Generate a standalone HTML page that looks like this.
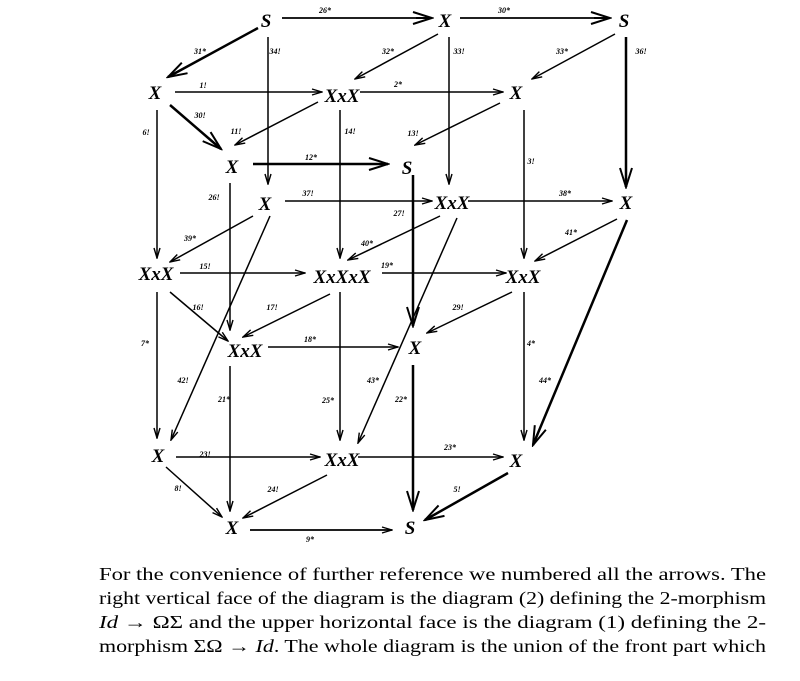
<!DOCTYPE html>
<html><head><meta charset="utf-8"><style>
html,body{margin:0;padding:0;background:#fff;}
svg{display:block;}
.n{font-family:"Liberation Serif",serif;font-style:italic;font-weight:bold;font-size:19px;fill:#000;text-anchor:middle;}
.l{font-family:"Liberation Serif",serif;font-style:italic;font-weight:bold;font-size:8px;fill:#000;text-anchor:middle;}
.t{font-family:"Liberation Serif",serif;font-size:17.5px;fill:#000;}
line{stroke:#000;stroke-width:1.5;}
line.k{stroke-width:2.5;}
</style></head><body>
<svg width="800" height="681" viewBox="0 0 800 681">
<defs>
<marker id="a" markerWidth="12" markerHeight="10" refX="11" refY="5" orient="auto" markerUnits="userSpaceOnUse">
<path d="M1,2 L11,5 L1,8" fill="none" stroke="#000" stroke-width="1.4"/></marker>
<marker id="b" markerWidth="22" markerHeight="14" refX="20" refY="7" orient="auto" markerUnits="userSpaceOnUse">
<path d="M1,1 L20,7 L1,13 M4,7 L20,7" fill="none" stroke="#000" stroke-width="2"/></marker>
</defs>
<g marker-end="url(#a)">
<line x1="282" y1="18" x2="432" y2="18" marker-end="url(#b)" style="stroke-width:1.8"/>
<line x1="460" y1="18" x2="610" y2="18" marker-end="url(#b)" style="stroke-width:1.8"/>
<line class="k" x1="258" y1="28" x2="168" y2="77" marker-end="url(#b)"/>
<line x1="268" y1="37" x2="268" y2="184"/>
<line x1="438" y1="34" x2="355" y2="79"/>
<line x1="449" y1="37" x2="449" y2="184"/>
<line x1="615" y1="34" x2="532" y2="79"/>
<line class="k" x1="626" y1="37" x2="626" y2="187" marker-end="url(#b)"/>
<line x1="175" y1="92" x2="322" y2="92"/>
<line x1="360" y1="92" x2="503" y2="92"/>
<line class="k" x1="170" y1="105" x2="221" y2="149" marker-end="url(#b)"/>
<line x1="157" y1="110" x2="157" y2="258"/>
<line x1="318" y1="102" x2="235" y2="145"/>
<line x1="340" y1="110" x2="340" y2="258"/>
<line x1="500" y1="103" x2="415" y2="145"/>
<line x1="524" y1="110" x2="524" y2="258"/>
<line class="k" x1="253" y1="164" x2="388" y2="164" marker-end="url(#b)"/>
<line x1="230" y1="183" x2="230" y2="330"/>
<line class="k" x1="413" y1="175" x2="413" y2="326" marker-end="url(#b)"/>
<line x1="285" y1="201" x2="432" y2="201"/>
<line x1="468" y1="201" x2="612" y2="201"/>
<line x1="253" y1="216" x2="170" y2="262"/>
<line x1="270" y1="216" x2="171" y2="440"/>
<line x1="440" y1="216" x2="348" y2="260"/>
<line x1="457" y1="218" x2="358" y2="443"/>
<line x1="617" y1="219" x2="535" y2="261"/>
<line class="k" x1="627" y1="220" x2="533" y2="445" marker-end="url(#b)"/>
<line x1="180" y1="273" x2="305" y2="273"/>
<line x1="170" y1="292" x2="228" y2="341"/>
<line x1="157" y1="292" x2="157" y2="438"/>
<line x1="382" y1="273" x2="506" y2="273"/>
<line x1="330" y1="294" x2="243" y2="337"/>
<line x1="340" y1="292" x2="340" y2="440"/>
<line x1="512" y1="292" x2="427" y2="333"/>
<line x1="524" y1="292" x2="524" y2="440"/>
<line x1="268" y1="347" x2="398" y2="347"/>
<line x1="230" y1="366" x2="230" y2="511"/>
<line class="k" x1="413" y1="365" x2="413" y2="510" marker-end="url(#b)"/>
<line x1="176" y1="457" x2="320" y2="457"/>
<line x1="358" y1="457" x2="503" y2="457"/>
<line x1="166" y1="467" x2="222" y2="517"/>
<line x1="327" y1="475" x2="243" y2="518"/>
<line class="k" x1="508" y1="473" x2="425" y2="520" marker-end="url(#b)"/>
<line x1="250" y1="530" x2="392" y2="530" style="stroke-width:1.8"/>
</g>
<g class="n">
<text x="266" y="27">S</text><text x="445" y="27">X</text><text x="624" y="27">S</text>
<text x="155" y="99">X</text><text x="342" y="102">XxX</text><text x="516" y="99">X</text>
<text x="232" y="173">X</text><text x="407" y="174">S</text>
<text x="265" y="210">X</text><text x="452" y="209">XxX</text><text x="626" y="209">X</text>
<text x="156" y="280">XxX</text><text x="342" y="283">XxXxX</text><text x="523" y="283">XxX</text>
<text x="245" y="357">XxX</text><text x="415" y="354">X</text>
<text x="158" y="462">X</text><text x="342" y="466">XxX</text><text x="516" y="467">X</text>
<text x="232" y="534">X</text><text x="410" y="534">S</text>
</g>
<g class="l">
<text x="325" y="13">26*</text><text x="504" y="13">30*</text>
<text x="200" y="54">31*</text><text x="275" y="54">34!</text><text x="388" y="54">32*</text>
<text x="459" y="54">33!</text><text x="562" y="54">33*</text><text x="641" y="54">36!</text>
<text x="203" y="88">1!</text><text x="398" y="87">2*</text>
<text x="200" y="118">30!</text><text x="146" y="135">6!</text><text x="236" y="134">11!</text>
<text x="350" y="134">14!</text><text x="413" y="136">13!</text>
<text x="311" y="160">12*</text><text x="531" y="164">3!</text>
<text x="214" y="200">26!</text><text x="308" y="196">37!</text><text x="399" y="216">27!</text>
<text x="565" y="196">38*</text>
<text x="190" y="241">39*</text><text x="367" y="246">40*</text><text x="571" y="235">41*</text>
<text x="205" y="269">15!</text><text x="387" y="268">19*</text>
<text x="198" y="310">16!</text><text x="272" y="310">17!</text><text x="458" y="310">29!</text>
<text x="145" y="346">7*</text><text x="310" y="342">18*</text><text x="531" y="346">4*</text>
<text x="183" y="383">42!</text><text x="373" y="383">43*</text><text x="545" y="383">44*</text>
<text x="224" y="402">21*</text><text x="328" y="403">25*</text><text x="401" y="402">22*</text>
<text x="205" y="457">23!</text><text x="450" y="450">23*</text>
<text x="178" y="491">8!</text><text x="273" y="492">24!</text><text x="457" y="492">5!</text>
<text x="310" y="542">9*</text>
</g>
<g class="t">
<text x="99" y="580" textLength="667" lengthAdjust="spacingAndGlyphs">For the convenience of further reference we numbered all the arrows.  The</text>
<text x="99" y="604" textLength="667" lengthAdjust="spacingAndGlyphs">right vertical face of the diagram is the diagram (2) defining the 2-morphism</text>
<text x="99" y="628" textLength="667" lengthAdjust="spacingAndGlyphs"><tspan font-style="italic">Id</tspan> → ΩΣ and the upper horizontal face is the diagram (1) defining the 2-</text>
<text x="99" y="652" textLength="667" lengthAdjust="spacingAndGlyphs">morphism ΣΩ → <tspan font-style="italic">Id</tspan>.  The whole diagram is the union of the front part which</text>
</g>
</svg>
</body></html>
